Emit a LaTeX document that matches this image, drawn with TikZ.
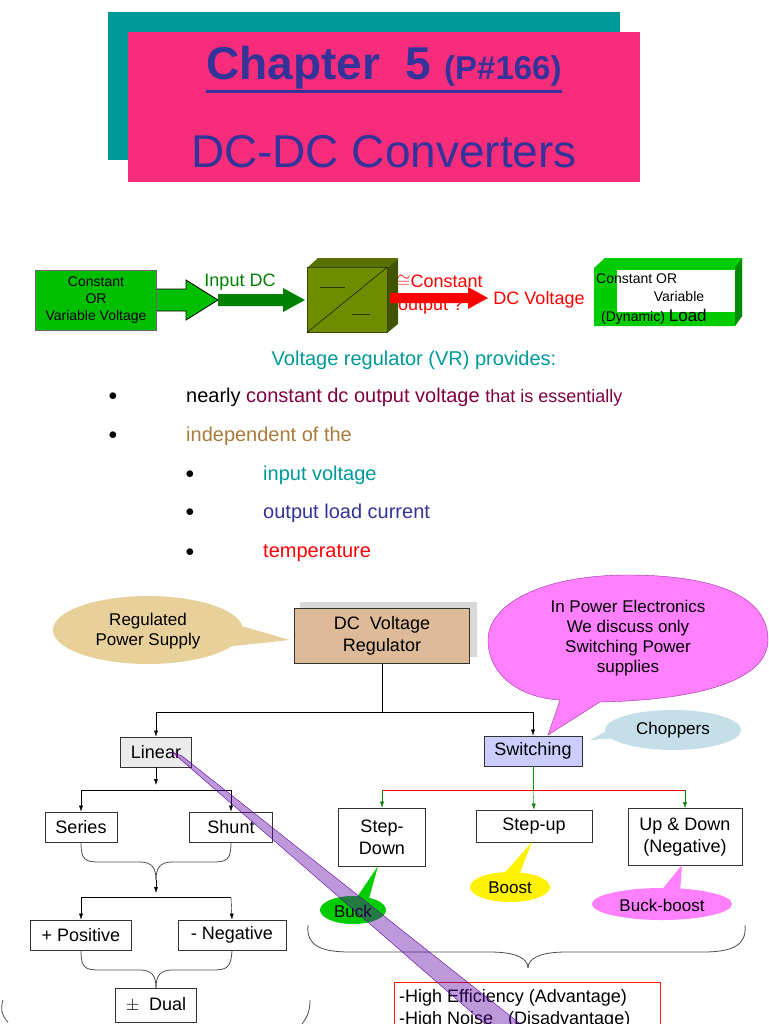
\documentclass[tikz,border=0pt]{standalone}
\usepackage{fontspec}
\setmainfont{Liberation Sans}
\usetikzlibrary{arrows.meta,shapes.callouts,shapes.geometric}
\definecolor{titleblue}{HTML}{333399}
\definecolor{teal2}{HTML}{009999}
\definecolor{pink2}{HTML}{F72D7C}
\definecolor{olive2}{HTML}{6E8C00}
\definecolor{maroon2}{HTML}{800040}
\definecolor{brown2}{HTML}{A87B3C}
\definecolor{tan2}{HTML}{E8D09A}
\definecolor{wood}{HTML}{DDBB99}
\definecolor{pe}{HTML}{FF80FF}
\tikzset{>=latex}
\newcommand{\fs}[1]{\fontsize{#1}{\numexpr#1*6/5\relax}\selectfont}
\begin{document}
\begin{tikzpicture}[x=1pt,y=-1pt,
    box/.style={draw=black!80,thick,inner sep=3pt,font=\fs{18},align=center,minimum height=30},
    tree/.style={black,->,>={Latex[length=6,width=4]}},
    gtree/.style={green!50!black,->,>={Latex[length=6,width=4]}},
    brace/.style={black!70,thick},
    say/.style={font=\fs{17},align=center}]
\useasboundingbox (0,0) rectangle (768,1024);
\clip (0,0) rectangle (768,1024);
% title
\fill[teal2] (108,12) rectangle (620,160);
\fill[pink2] (128,32) rectangle (640,182);
\node[text=titleblue,font=\bfseries,inner sep=0] (chap) at (384,68) {\fs{46}Chapter~~5 \fs{33}(P\#166)};
\draw[titleblue,line width=2.5] (chap.south west) ++(0,2) -- ([yshift=-2]chap.south east);
\node[text=titleblue,font=\fs{46}] (dcdc) at (384,152) {DC-DC Converters};
% converter chain
\node[draw=black!60,fill=green!75!black,minimum width=121,minimum height=60,font=\fs{14},align=center,inner sep=1pt] (src) at (96,300) {Constant\\OR\\Variable Voltage};
\draw[black,fill=green!75!black,thick] (157,289) -- (186,289) -- (186,280) -- (218,300) -- (186,320) -- (186,311) -- (157,311);
\fill[green!50!black] (218,294) -- (283,294) -- (283,288) -- (305,300) -- (283,312) -- (283,306) -- (218,306) -- cycle;
\node[text=green!50!black,font=\fs{18}] (indc) at (240,282) {Input DC};
\fill[olive2!60!black] (387,268) -- (398,258) -- (398,324) -- (387,333) -- cycle;
\fill[olive2!80!black] (307,268) -- (318,258) -- (398,258) -- (387,268) -- cycle;
\node[fill=olive2,draw=olive2!50!black,minimum width=80,minimum height=65,inner sep=0] (conv) at (347,300) {};
\draw[black] (conv.south west) -- (conv.north east);
\draw[olive2!40!black,thick] (320,287) -- (345,287) (352,314) -- (370,314);
\node[text=red,font=\fs{18},anchor=west,inner sep=0] (cst) at (397,281) {$\cong$Constant};
\node[text=red,font=\fs{18},anchor=west,inner sep=0] (outq) at (398,306) {output ?};
\fill[red] (390,293) -- (468,293) -- (468,287) -- (488,298) -- (468,309) -- (468,303) -- (390,303) -- cycle;
\node[text=red,font=\fs{18}] (dcv) at (539,300) {DC Voltage};
\fill[green!80!black] (594,268) -- (605,258) -- (742,258) -- (742,316) -- (735,326) -- (594,326) -- cycle;
\fill[green!55!black] (735,268) -- (742,258) -- (742,316) -- (735,326) -- cycle;
\fill[white] (617,270) rectangle (735,312);
\node[font=\fs{14},anchor=west,inner sep=0] (ld1) at (596,279) {Constant OR};
\node[font=\fs{14},inner sep=0] (ld2) at (679,296) {Variable};
\node[anchor=west,inner sep=0] (ld3) at (601,317) {\fs{14}(Dynamic) \fs{17}Load};
% text list
\node[text=teal2,font=\fs{20}] (vr) at (414,360) {Voltage regulator (VR) provides:};
\foreach \yy in {397,436} \node[font=\fs{19}] at (113,\yy) {$\bullet$};
\foreach \yy in {475,513,553} \node[font=\fs{19}] at (190,\yy) {$\bullet$};
\node[anchor=west,font=\fs{20},inner sep=0] (t1) at (186,397) {nearly \textcolor{maroon2}{constant dc output voltage \fs{18}that is essentially}};
\node[anchor=west,font=\fs{20},text=brown2,inner sep=0] (t2) at (186,436) {independent of the};
\node[anchor=west,font=\fs{20},text=teal2,inner sep=0] (t3) at (263,475) {input voltage};
\node[anchor=west,font=\fs{20},text=titleblue,inner sep=0] (t4) at (263,513) {output load current};
\node[anchor=west,font=\fs{20},text=red,inner sep=0] (t5) at (263,553) {temperature};
% callouts
\fill[tan2] (148,630) ellipse (95 and 34);
\fill[tan2] (210,617) -- (290,640) -- (215,648) -- cycle;
\node[say] (rps) at (148,631) {Regulated\\Power Supply};
\fill[black!15] (300,602) rectangle (477,657);
\node[box,fill=wood,minimum width=175,minimum height=55] (dcvr) at (382,636) {DC~ Voltage\\Regulator};
\draw[violet!80,fill=pe] (560,700) -- (548,735) -- (600,702) .. controls (700,700) and (768,680) .. (768,640) .. controls (768,590) and (700,575) .. (628,575) .. controls (540,575) and (488,605) .. (488,640) .. controls (488,675) and (520,698) .. (560,700);
\node[say] (pe) at (628,638) {In Power Electronics\\We discuss only\\Switching Power\\supplies};
\fill[cyan!30!teal!25!white] (673,730) ellipse (68 and 20);
\fill[cyan!30!teal!25!white] (612,728) -- (590,740) -- (620,738) -- cycle;
\node[say] (chop) at (673,730) {Choppers};
% tree
\node[box,fill=black!8,minimum width=71] (lin) at (156,752) {Linear};
\node[box,fill=blue!20,minimum width=98] (sw) at (533,751) {Switching};
\draw[black] (dcvr.south) -- (382,712);
\draw[tree] (156,712) -- (lin.north);
\draw[tree] (156,712) -| (sw.north);
\draw[black] (156,712) -- (533,712);
\node[box,minimum width=72] (ser) at (81,827) {Series};
\node[box,minimum width=83] (shu) at (231,827) {Shunt};
\draw[tree] (lin.south) -- (156,785);
\draw[black] (81,790) -- (231,790);
\draw[tree] (81,790) -- (ser.north);
\draw[tree] (231,790) -- (shu.north);
\draw[brace] (ser.south) .. controls (81,860) and (85,862) .. (100,862) -- (140,862) .. controls (152,862) and (156,868) .. (156,880);
\draw[brace] (shu.south) .. controls (231,860) and (227,862) .. (212,862) -- (172,862) .. controls (160,862) and (156,868) .. (156,880);
\draw[tree] (156,880) -- (156,893);
\node[box,minimum width=101] (pos) at (81,935) {+ Positive};
\node[box,minimum width=108] (neg) at (232,935) {- Negative};
\draw[black] (81,897) -- (231,897);
\draw[tree] (81,897) -- (pos.north);
\draw[tree] (231,897) -- (neg.north);
\draw[brace] (pos.south) .. controls (81,968) and (85,970) .. (100,970) -- (140,970) .. controls (152,970) and (156,976) .. (156,988);
\draw[brace] (neg.south) .. controls (231,968) and (227,970) .. (212,970) -- (172,970) .. controls (160,970) and (156,976) .. (156,988);
\node[box,minimum width=81,minimum height=34] (dual) at (156,1005) {$\pm$~ Dual};
\draw[brace] (3,1000) .. controls (0,1010) and (2,1016) .. (8,1022);
\draw[brace] (310,1000) .. controls (310,1010) and (308,1016) .. (302,1024);
% switching branch
\node[box,minimum width=87,minimum height=58] (sd) at (382,837) {Step-\\Down};
\node[box,minimum width=116,minimum height=32] (su) at (534,826) {Step-up};
\node[box,minimum width=114,minimum height=57] (ud) at (685,837) {Up \& Down\\(Negative)};
\draw[green!60!black] (sw.south) -- (533,790);
\draw[red] (382,790) -- (685,790);
\draw[gtree] (382,790) -- (sd.north);
\draw[gtree] (533,790) -- (su.north);
\draw[gtree] (685,790) -- (ud.north);
\fill[green!80!black] (353,910) ellipse (33 and 14);
\fill[green!80!black] (378,866) -- (355,900) -- (368,902) -- cycle;
\node[say] (buck) at (353,911) {Buck};
\fill[yellow] (510,887) ellipse (40 and 15);
\fill[yellow] (532,842) -- (500,878) -- (518,878) -- cycle;
\node[say] (boost) at (510,888) {Boost};
\fill[pe] (662,904) ellipse (70 and 16);
\fill[pe] (682,865) -- (660,892) -- (680,892) -- cycle;
\node[say] (bb) at (662,905) {Buck-boost};
\draw[brace] (308,925) .. controls (306,945) and (320,952) .. (350,952) -- (490,952) .. controls (515,952) and (528,958) .. (528,968);
\draw[brace] (745,925) .. controls (747,945) and (733,952) .. (703,952) -- (566,952) .. controls (541,952) and (528,958) .. (528,968);
\draw[red!80!orange] (394,1040) -- (394,982) -- (660,982) -- (660,1040);
\node[anchor=north west,font=\fs{18},align=left,inner sep=0] (adv) at (399,989) {-High Efficiency (Advantage)\\-High Noise~~~(Disadvantage)};
% overlay band
\fill[violet!70!blue,opacity=0.4] (172,752) -- (182,756) -- (528,1030) -- (492,1030) -- cycle;
\draw[violet!80!blue] (172,752) -- (182,756) -- (528,1030) (172,752) -- (492,1030);
\end{tikzpicture}
\end{document}
